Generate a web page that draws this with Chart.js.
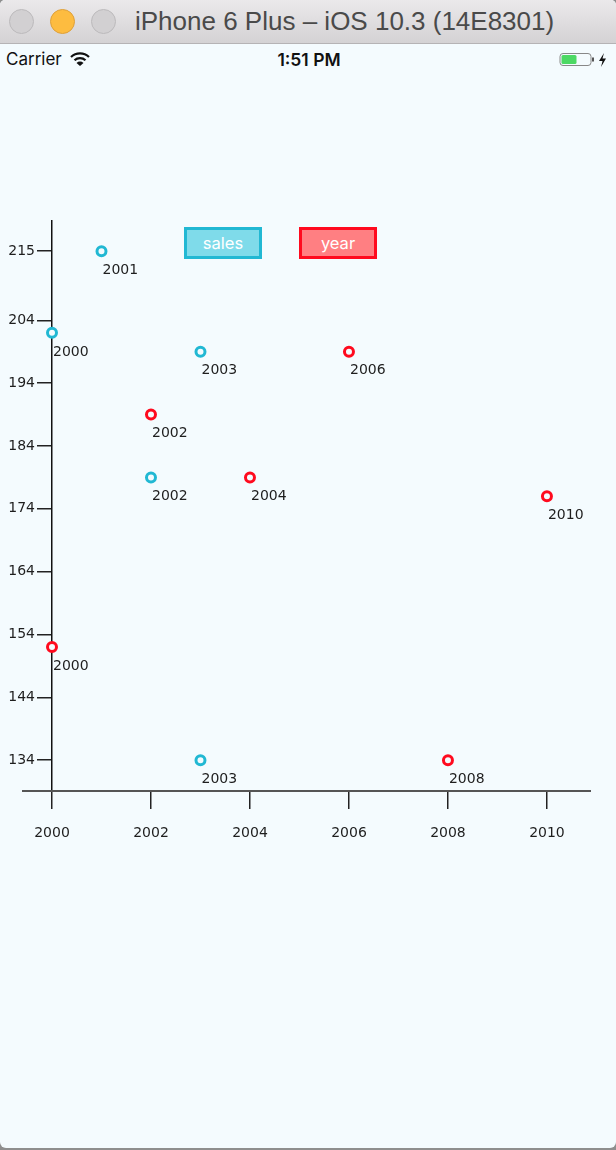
<!DOCTYPE html>
<html>
<head>
<meta charset="utf-8">
<script src="https://cdn.jsdelivr.net/npm/chart.js@4"></script>
<style>
  html, body { margin: 0; padding: 0; width: 616px; height: 1150px; background: #8e8e8e; overflow: hidden; }
  #win { position: absolute; left: 0; top: 0; width: 616px; height: 1148px; background: #f4fbfe; border-radius: 5px 5px 6px 6px; overflow: hidden; }
  #titlebar { position: absolute; left: 0; top: 0; width: 616px; height: 43px; background: linear-gradient(#ebe9eb, #d4d2d4); border-bottom: 1px solid #b5b3b5; }
  .light { position: absolute; top: 9px; width: 23px; height: 23px; border-radius: 50%; background: #d2d0d2; border: 1px solid #bcbabc; }
  #title { position: absolute; left: 135px; top: 6px; font: 26px "Liberation Sans", Arial, sans-serif; color: #4a4a4a; white-space: nowrap; }
  #status { position: absolute; left: 0; top: 44px; width: 616px; height: 32px; font-family: Inter, sans-serif; }
  #carrier { position: absolute; left: 6px; top: 5px; font-size: 17px; color: #111; }
  #clock { position: absolute; left: 0; width: 618px; top: 5px; text-align: center; font-size: 17.5px; font-weight: 600; color: #111; }
  .lg { position: absolute; top: 227px; width: 72px; height: 26px; border: 3px solid; color: #fff; font: 16.5px Inter, sans-serif; text-align: center; line-height: 26px; }
  #chartbox { position: absolute; left: 0; top: 200px; width: 616px; height: 680px; }
</style>
</head>
<body>
<div id="win">
  <div id="titlebar">
    <div class="light" style="left:9px"></div>
    <div class="light" style="left:50px;background:#fdbc40;border-color:#dea03a"></div>
    <div class="light" style="left:91px"></div>
    <div id="title">iPhone 6 Plus – iOS 10.3 (14E8301)</div>
  </div>
  <div id="status">
    <div id="carrier">Carrier</div>
    <svg style="position:absolute;left:70px;top:8px" width="20" height="15" viewBox="0 0 20 15">
      <path d="M1 5 A13 13 0 0 1 19 5" stroke="#111" stroke-width="2.2" fill="none"/>
      <path d="M4.5 8.3 A8 8 0 0 1 15.5 8.3" stroke="#111" stroke-width="2.2" fill="none"/>
      <path d="M10 14 L6.5 11 A5 5 0 0 1 13.5 11 Z" fill="#111"/>
    </svg>
    <div id="clock">1:51 PM</div>
    <svg style="position:absolute;left:559px;top:8px" width="52" height="16" viewBox="0 0 52 16">
      <rect x="1" y="1.5" width="31" height="12" rx="3" fill="none" stroke="#888" stroke-width="1"/>
      <rect x="2.5" y="3" width="15" height="9" rx="1.5" fill="#4cd964"/>
      <rect x="33" y="5.5" width="2" height="4" fill="#555"/>
      <path d="M45 1 L40 9 L43.5 9 L42 15 L47 6.5 L43.5 6.5 Z" fill="#111"/>
    </svg>
  </div>
  <div id="chartbox"><canvas id="c" width="616" height="680"></canvas></div>
  <div class="lg" style="left:184px;background:#7fdbea;border-color:#21b8d3">sales</div>
  <div class="lg" style="left:299px;background:#ff7f82;border-color:#ff0a1e">year</div>
</div>
<script>
const salesYears = [2000, 2001, 2002, 2003, 2003];
const salesValues = [202, 215, 179, 199, 134];
const yearYears = [2000, 2002, 2004, 2006, 2008, 2010];
const yearValues = [152, 189, 179, 199, 134, 176];
const xTicks = [2000, 2002, 2004, 2006, 2008, 2010];
const yTicks = [134, 144, 154, 164, 174, 184, 194, 204, 215];

const pts = (xs, ys) => xs.map((x, i) => ({ x: x, y: ys[i] }));

const chartFont = "'DejaVu Sans', sans-serif";
Chart.defaults.font.family = chartFont;
Chart.defaults.font.size = 14;
Chart.defaults.color = "#1e1e1e";

// x axis line runs a bit past the y axis, and each point gets its year below it
const extras = {
  id: "extras",
  afterDraw(chart) {
    const ctx = chart.ctx;
    const a = chart.chartArea;
    ctx.save();
    ctx.strokeStyle = "#555";
    ctx.lineWidth = 2;
    ctx.beginPath();
    ctx.moveTo(a.left - 30, a.bottom);
    ctx.lineTo(a.right, a.bottom);
    ctx.stroke();
    ctx.fillStyle = "#1e1e1e";
    ctx.font = "14px " + chartFont;
    ctx.textAlign = "left";
    ctx.textBaseline = "middle";
    chart.data.datasets.forEach((ds, di) => {
      chart.getDatasetMeta(di).data.forEach((el, i) => {
        ctx.fillText(String(ds.data[i].x), el.x + 1, el.y + 19);
      });
    });
    ctx.restore();
  }
};

new Chart(document.getElementById("c"), {
  type: "scatter",
  data: {
    datasets: [
      {
        label: "sales",
        data: pts(salesYears, salesValues),
        borderColor: "#21b8d3",
        backgroundColor: "#f4fbfe",
        pointRadius: 4.5,
        pointBorderWidth: 3,
        clip: false,
      },
      {
        label: "year",
        data: pts(yearYears, yearValues),
        borderColor: "#ff0a1e",
        backgroundColor: "#f4fbfe",
        pointRadius: 4.5,
        pointBorderWidth: 3,
        clip: false,
      },
    ],
  },
  options: {
    responsive: false,
    animation: false,
    layout: { padding: { top: 21, right: 25, left: 0, bottom: 0 } },
    plugins: { legend: { display: false }, tooltip: { enabled: false } },
    scales: {
      x: {
        type: "linear",
        min: 2000,
        max: 2010.89,
        afterBuildTicks: (s) => { s.ticks = xTicks.map((v) => ({ value: v })); },
        afterFit: (s) => { s.height = 89; },
        ticks: { padding: 16, callback: (v) => String(v) },
        grid: { drawOnChartArea: false, tickLength: 18, color: "#222", lineWidth: 1.5 },
        border: { display: false },
      },
      y: {
        type: "linear",
        min: 129.1,
        max: 219.8,
        afterBuildTicks: (s) => { s.ticks = yTicks.map((v) => ({ value: v })); },
        afterFit: (s) => { s.width = 52; },
        ticks: { padding: 2, callback: (v) => String(v) },
        grid: { drawOnChartArea: false, tickLength: 15, color: "#222", lineWidth: 1.5 },
        border: { display: true, color: "#111", width: 1.5 },
      },
    },
  },
  plugins: [extras],
});
</script>
</body>
</html>
